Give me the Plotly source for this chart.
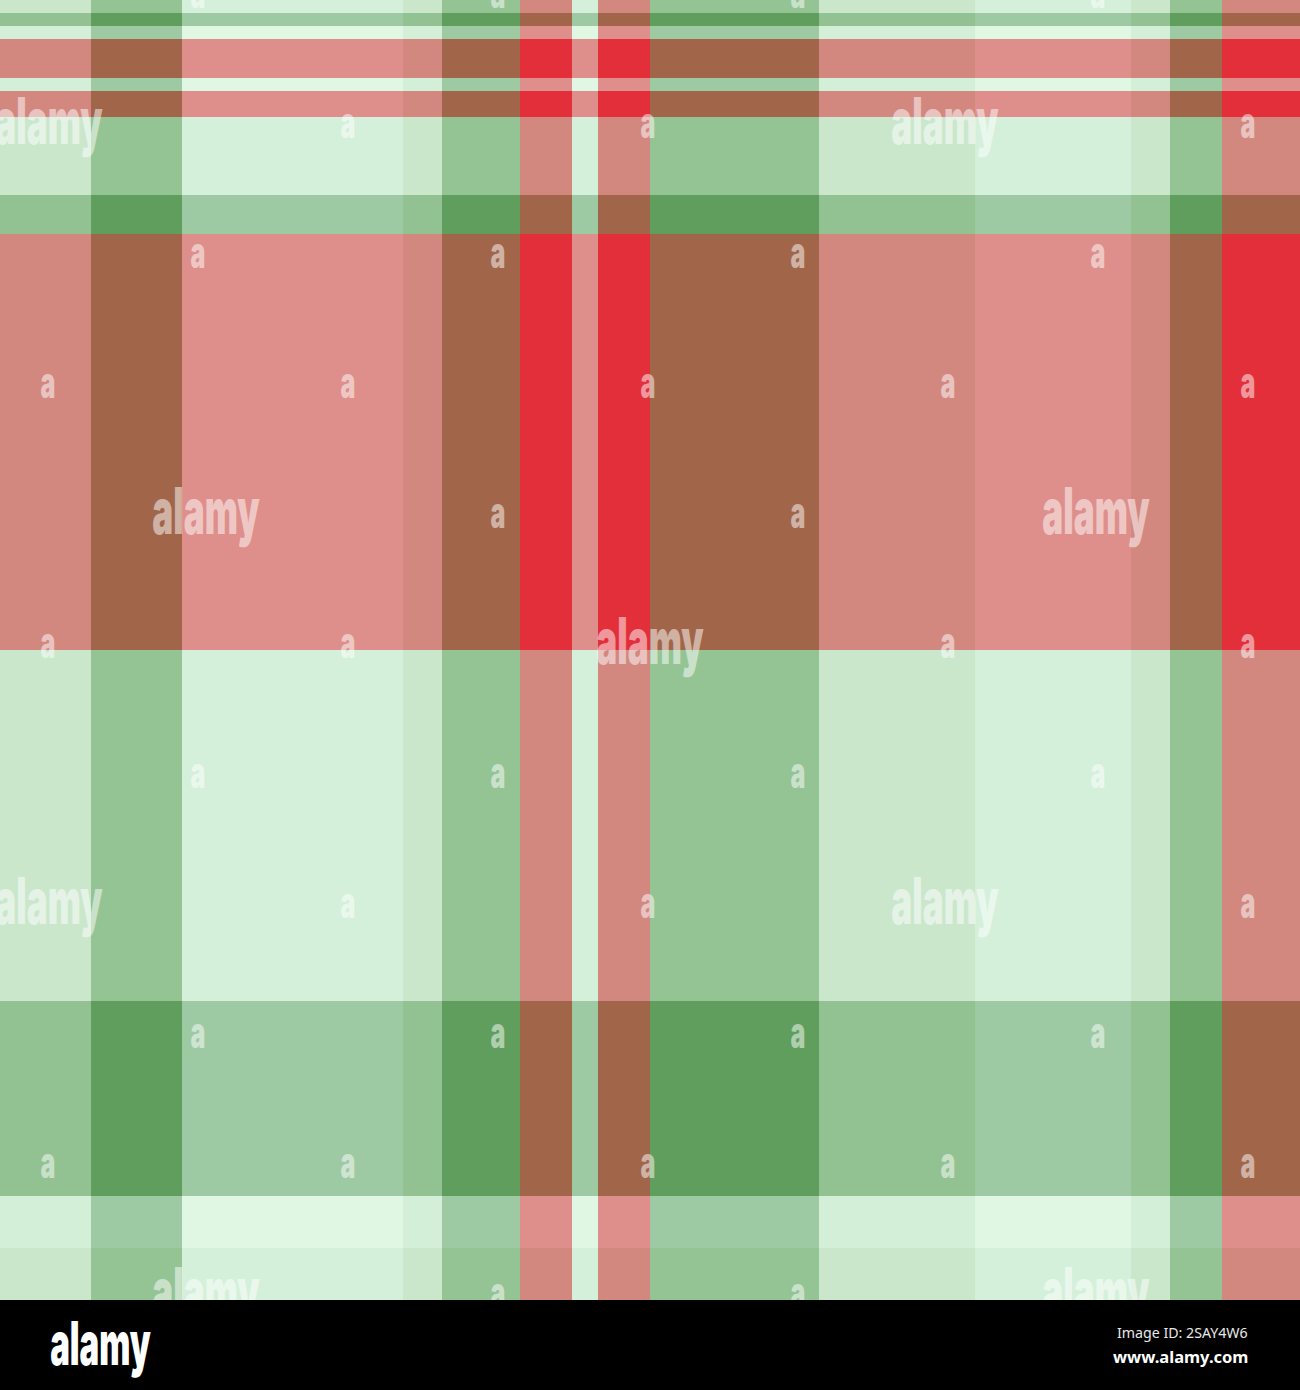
import plotly.graph_objects as go

# band edges of the weave, left to right / top to bottom
col_edges = [0, 91, 182, 403, 442, 520, 572, 598, 650, 819, 975, 1131, 1170, 1222, 1300]
row_edges = [0, 13, 26, 39, 78, 91, 117, 195, 234, 650, 1001, 1196, 1248, 1300]

# thread type of each band
col_types = ["tint", "green", "pale", "tint", "green", "red", "pale", "red", "green", "tint", "pale", "tint", "green", "red"]
row_types = ["light", "mid", "vlight", "red", "vlight", "red", "light", "mid", "red", "light", "mid", "vlight", "light"]

# colour where a row thread crosses a column thread
col_order = ["pale", "tint", "green", "red"]
crossings = {
    "vlight": ["#dff7e3", "#d3efd7", "#9ecaa3", "#de8f8b"],
    "light": ["#d5f0da", "#cae7cc", "#94c394", "#d3887f"],
    "mid": ["#9ecaa3", "#92c291", "#5f9e5c", "#a1654a"],
    "red": ["#de8f8b", "#d3887f", "#a1654a", "#e22f3a"],
}
row_order = ["vlight", "light", "mid", "red"]

# watermark positions
big_x = [49, 945, 206, 1096, 650, 49, 945, 206, 1096]
big_y = [128, 128, 518, 518, 648, 908, 908, 1298, 1298]
small_x = [198, 498, 798, 1098,
           348, 648, 1248,
           198, 498, 798, 1098,
           48, 348, 648, 948, 1248,
           498, 798,
           48, 348, 948, 1248,
           198, 498, 798, 1098,
           348, 648, 1248,
           198, 498, 798, 1098,
           48, 348, 648, 948, 1248,
           498, 798]
small_y = [-3, -3, -3, -3,
           127, 127, 127,
           257, 257, 257, 257,
           387, 387, 387, 387, 387,
           517, 517,
           647, 647, 647, 647,
           777, 777, 777, 777,
           907, 907, 907,
           1037, 1037, 1037, 1037,
           1167, 1167, 1167, 1167, 1167,
           1297, 1297]

palette = [c for r in row_order for c in crossings[r]]
n = len(palette)
colorscale = []
for i, c in enumerate(palette):
    colorscale.append([i / n, c])
    colorscale.append([(i + 1) / n, c])

z = [[row_order.index(r) * 4 + col_order.index(c) + 0.5 for c in col_types] for r in row_types]

fig = go.Figure()
fig.add_trace(go.Heatmap(x=col_edges, y=row_edges, z=z, zmin=0, zmax=n,
                         colorscale=colorscale, showscale=False, hoverinfo="skip"))
fig.add_trace(go.Scatter(x=big_x, y=big_y, mode="text", text=["alamy"] * len(big_x),
                         textposition="middle center", hoverinfo="skip",
                         textfont=dict(family="Inter", size=64, weight=900,
                                       color="rgba(255,255,255,0.5)")))
fig.add_trace(go.Scatter(x=small_x, y=small_y, mode="text", text=["a"] * len(small_x),
                         textposition="middle center", hoverinfo="skip",
                         textfont=dict(family="Inter", size=43, weight=900,
                                       color="rgba(255,255,255,0.5)")))


def footer_y(px):
    return 1 - px / 1390


fig.add_annotation(text="alamy", x=100 / 1300, y=footer_y(1343), xref="paper", yref="paper", showarrow=False,
                   xanchor="center", yanchor="middle",
                   font=dict(family="Inter", size=60, weight=900, color="white"))
fig.add_annotation(text="Image ID: 2SAY4W6", x=1250 / 1300, y=footer_y(1332), xref="paper", yref="paper",
                   xanchor="right", yanchor="middle", showarrow=False,
                   font=dict(family="Noto Sans", size=14.2, color="#e8e8e8"))
fig.add_annotation(text="<b>www.alamy.com</b>", x=1250 / 1300, y=footer_y(1356), xref="paper", yref="paper",
                   xanchor="right", yanchor="middle", showarrow=False,
                   font=dict(family="Noto Sans", size=16.5, color="white"))

fig.update_layout(
    width=1300, height=1390, showlegend=False,
    margin=dict(l=0, r=0, t=0, b=0),
    paper_bgcolor="black", plot_bgcolor="black",
    xaxis=dict(range=[0, 1300], visible=False),
    yaxis=dict(range=[1300, 0], visible=False, domain=[90 / 1390, 1]),
)

# logo lettering is much narrower than any installed font
squeeze = """
document.body.style.margin = '0';
var gd = document.getElementById('{plot_id}');
function squeeze(t, s) {
    var x = t.getAttribute('x'), y = t.getAttribute('y');
    var old = t.getAttribute('transform') || '';
    t.setAttribute('transform', old + ' translate(' + x + ',' + y + ') scale(' + s + ',1) translate(' + (-x) + ',' + (-y) + ')');
}
gd.querySelectorAll('.textpoint text').forEach(function (t) {
    squeeze(t, t.textContent === 'alamy' ? 0.55 : 0.58);
});
gd.querySelectorAll('.annotation-text').forEach(function (t) {
    if (t.textContent === 'alamy') squeeze(t, 0.55);
});
"""

fig.write_html("out.html", post_script=squeeze, config=dict(displayModeBar=False))
